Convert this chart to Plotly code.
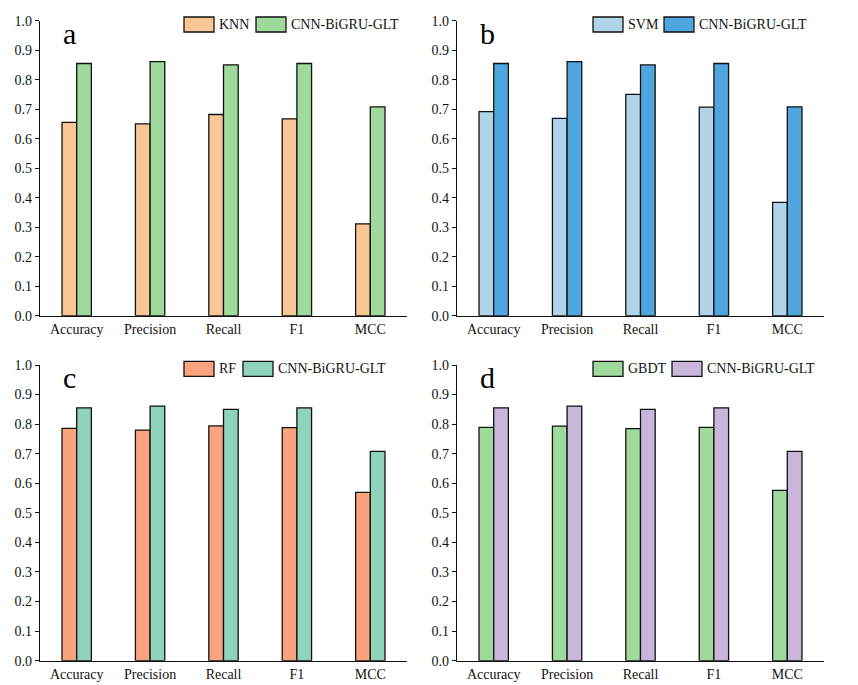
import plotly.graph_objects as go

metrics = ["Accuracy", "Precision", "Recall", "F1", "MCC"]
glt = [0.855, 0.861, 0.850, 0.855, 0.708]
knn = [0.655, 0.650, 0.682, 0.667, 0.311]
svm = [0.692, 0.669, 0.750, 0.707, 0.384]
rf = [0.786, 0.780, 0.794, 0.788, 0.569]
gbdt = [0.789, 0.793, 0.785, 0.789, 0.576]
y_ticks = [0.0, 0.1, 0.2, 0.3, 0.4, 0.5, 0.6, 0.7, 0.8, 0.9, 1.0]

# the page body adds an 8px margin; the figure is sized to fill the rest of the window
OFF = 8
W, H = 858 - OFF, 685 - OFF
panels = [
    # label, baseline name, values, baseline color, GLT color, x domain px, y domain px, legend box x starts
    ("a", "KNN", knn, "#F9C795", "#9FD99B", (40, 407), (20.7, 315.7), (184, 256)),
    ("b", "SVM", svm, "#AFD4E7", "#4FA5DE", (457, 824), (20.7, 315.7), (593, 664)),
    ("c", "RF", rf, "#F9A37F", "#8FD3BB", (40, 407), (365, 660.7), (184, 243)),
    ("d", "GBDT", gbdt, "#9FD99B", "#C8B7DA", (457, 824), (365, 660.7), (593, 672)),
]


def px(v):
    return v - OFF


font_family = "Liberation Serif, Times New Roman, serif"
ink = "#111111"
fig = go.Figure()
layout = dict(
    template="none",
    width=W, height=H,
    margin=dict(l=0, r=0, t=0, b=0),
    paper_bgcolor="white", plot_bgcolor="white",
    barmode="group", bargap=0.6, bargroupgap=0.0,
    font=dict(family=font_family, size=14, color=ink),
    showlegend=False,
)
annotations = []
shapes = []
for i, (lab, name, vals, c1, c2, (x0, x1), (yt, yb), (lx1, lx2)) in enumerate(panels):
    n = i + 1
    xa = "x" if n == 1 else f"x{n}"
    ya = "y" if n == 1 else f"y{n}"
    fig.add_trace(go.Bar(x=metrics, y=vals, name=name,
                         marker=dict(color=c1, line=dict(color=ink, width=1.3)),
                         xaxis=xa, yaxis=ya, offsetgroup="1"))
    fig.add_trace(go.Bar(x=metrics, y=glt, name="CNN-BiGRU-GLT",
                         marker=dict(color=c2, line=dict(color=ink, width=1.3)),
                         xaxis=xa, yaxis=ya, offsetgroup="2"))
    x0, x1, yt, yb, lx1, lx2 = px(x0), px(x1), px(yt), px(yb), px(lx1), px(lx2)
    xd = [x0 / W, x1 / W]
    yd = [(H - yb) / H, (H - yt) / H]
    layout[f"xaxis{'' if n == 1 else n}"] = dict(
        domain=xd, anchor=ya, range=[-0.5, 4.5], showline=True, linecolor=ink, linewidth=1.4,
        ticks="", showgrid=False, zeroline=False, automargin=False,
        tickfont=dict(size=14, family=font_family, color=ink),
    )
    layout[f"yaxis{'' if n == 1 else n}"] = dict(
        domain=yd, anchor=xa, range=[0, 1.0], tickvals=y_ticks, ticktext=[f"{v:.1f}" for v in y_ticks],
        showline=True, linecolor=ink, linewidth=1.4, ticks="outside", ticklen=4, tickwidth=1.3,
        tickcolor=ink, showgrid=False, zeroline=False, automargin=False,
        tickfont=dict(size=14, family=font_family, color=ink),
    )
    # custom legend: boxed swatches + labels
    sy0 = yt - 3.7
    sy1 = sy0 + 15
    for bx, col, txt in ((lx1, c1, name), (lx2, c2, "CNN-BiGRU-GLT")):
        shapes.append(dict(type="rect", xref="paper", yref="paper",
                           x0=bx / W, x1=(bx + 30) / W, y0=(H - sy1) / H, y1=(H - sy0) / H,
                           fillcolor=col, line=dict(color=ink, width=1.3)))
        annotations.append(dict(text=txt, xref="paper", yref="paper", x=(bx + 33) / W,
                                y=(H - (sy0 + sy1) / 2) / H, xanchor="left", yanchor="middle",
                                showarrow=False, font=dict(size=14, family=font_family, color=ink)))
    annotations.append(dict(
        text=lab, xref="paper", yref="paper", x=(x0 + 21) / W, y=(H - yt - 31) / H,
        xanchor="left", yanchor="bottom", showarrow=False,
        font=dict(size=30, family=font_family, color="#000000"),
    ))
layout["annotations"] = annotations
layout["shapes"] = shapes
fig.update_layout(**layout)
fig.write_html("out.html")
